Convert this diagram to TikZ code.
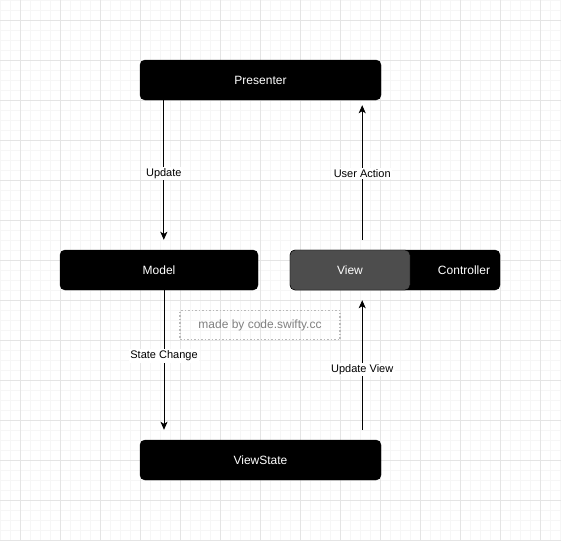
\documentclass[tikz,border=0pt]{standalone}
\usepackage{fontspec}
\setmainfont{Liberation Sans}
\usetikzlibrary{arrows.meta,positioning,calc}
\definecolor{gridminor}{HTML}{F6F6F6}
\definecolor{gridmajor}{HTML}{E4E4E4}
\definecolor{viewgray}{HTML}{4D4D4D}

\begin{document}
\begin{tikzpicture}[
  x=1pt, y=-1pt,
  font=\fontsize{11}{13}\selectfont,
  box/.style={fill=black, draw=black, rounded corners=5pt, text=white, minimum height=40pt, inner sep=0pt, font=\fontsize{12}{14}\selectfont},
  arr/.style={-{Stealth[length=8pt, width=7pt, inset=2pt]}, line width=1pt},
  lbl/.style={fill=white, inner sep=1.5pt},
]
\useasboundingbox[fill=white] (0,0) rectangle (561,541);
% background grid
\foreach \x in {0,10,...,560} \draw[gridminor, line width=0.5pt] (\x,0) -- (\x,541);
\foreach \y in {0,10,...,540} \draw[gridminor, line width=0.5pt] (0,\y) -- (561,\y);
\foreach \x in {20,60,...,540} \draw[gridmajor, line width=0.7pt] (\x,0) -- (\x,541);
\foreach \y in {20,60,...,540} \draw[gridmajor, line width=0.7pt] (0,\y) -- (561,\y);
% boxes
\node[box, minimum width=241pt] (presenter) at (260.5,80) {Presenter};
\node[box, minimum width=198pt] (model) at (159,270) {Model};
\node[box, minimum width=210pt] (vc) at (395,270) {};
\node[box, fill=viewgray, minimum width=120pt] (view) at (350,270) {View};
\node[text=white, font=\fontsize{12}{14}\selectfont] (ctrl) at (464,270) {Controller};
\node[box, minimum width=241pt] (viewstate) at (260.5,460) {ViewState};
\node[draw=gray!55, dotted, line width=1.5pt, text=gray, minimum width=160pt, minimum height=29pt, inner sep=0pt, font=\fontsize{12}{14}\selectfont] (mark) at (260,325) {made by code.swifty.cc};
% connectors
\draw[arr, shorten >=10pt] ([xshift=24pt]presenter.south west) -- ([xshift=24pt]presenter.south west |- model.north) node[lbl, pos=0.49]{Update};
\draw[arr, shorten <=10pt, shorten >=5pt] ([xshift=-19pt]presenter.south east |- vc.north) -- ([xshift=-19pt]presenter.south east) node[lbl, pos=0.51]{User Action};
\draw[arr, shorten >=10pt] ([xshift=5pt]model.south) -- ([xshift=5pt]model.south |- viewstate.north) node[lbl, pos=0.44]{State Change};
\draw[arr, shorten <=10pt, shorten >=10pt] ([xshift=-19pt]viewstate.north east) -- ([xshift=-19pt]viewstate.north east |- vc.south) node[lbl, pos=0.47]{Update View};
\end{tikzpicture}
\end{document}
